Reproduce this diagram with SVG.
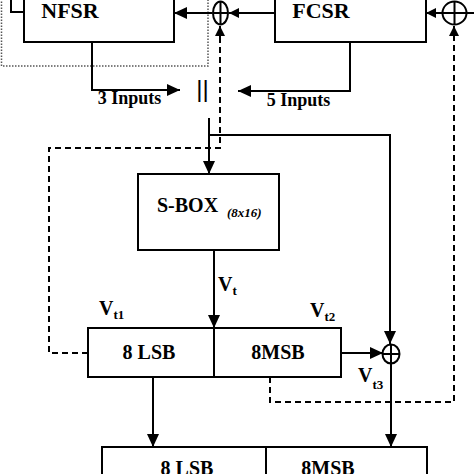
<svg xmlns="http://www.w3.org/2000/svg" width="474" height="474" viewBox="0 0 474 474">
<style>
.box{fill:#fff;stroke:#000;stroke-width:2}
.ln{fill:none;stroke:#000;stroke-width:2}
.dash{fill:none;stroke:#000;stroke-width:2;stroke-dasharray:6 4}
.dot{fill:none;stroke:#555;stroke-width:1.5;stroke-dasharray:1.5 1.5}
.t{font-family:"Liberation Serif","Times New Roman",serif;font-weight:bold;fill:#000}
.xor{fill:#fff;stroke:#000;stroke-width:2}
</style>
<defs>
<marker id="ah" markerUnits="userSpaceOnUse" markerWidth="13" markerHeight="12" refX="13" refY="6" orient="auto"><path d="M0,0 L13,6 L0,12 z" fill="#000"/></marker>
<marker id="as" markerUnits="userSpaceOnUse" markerWidth="10" markerHeight="10" refX="10" refY="5" orient="auto"><path d="M0,0 L10,5 L0,10 z" fill="#000"/></marker>
</defs>
<rect class="dot" x="1.5" y="-10" width="206.5" height="76"/>
<g id="connectors">
<path class="ln" d="M11,0 V12 H24"/>
<path class="ln" d="M275,13 H229" marker-end="url(#as)"/>
<path class="ln" d="M212,13 H174" marker-end="url(#ah)"/>
<path class="ln" d="M442,13 H426" marker-end="url(#as)"/>
<path class="ln" d="M467,13 H474"/>
<path class="ln" d="M92,42 V90 H180" marker-end="url(#ah)"/>
<path class="ln" d="M350,42 V91 H238" marker-end="url(#ah)"/>
<path class="ln" d="M209,118 V174" marker-end="url(#ah)"/>
<path class="ln" d="M209,135 H390 V344" marker-end="url(#ah)"/>
<path class="ln" d="M214,250 V328" marker-end="url(#ah)"/>
<path class="ln" d="M341,353 H383" marker-end="url(#ah)"/>
<path class="ln" d="M391,364 V447" marker-end="url(#ah)"/>
<path class="ln" d="M153,377 V447" marker-end="url(#ah)"/>
<path class="dash" d="M88,353 H49 V148 H220 V36"/>
<path class="ln" d="M220,37 V26" marker-end="url(#as)"/>
<path class="dash" d="M270,377 V402 H454 V36"/>
<path class="ln" d="M454,37 V26" marker-end="url(#as)"/>
</g>
<g id="nfsr"><rect class="box" x="24" y="-10" width="150" height="52"/><text class="t" x="70" y="18" font-size="22" text-anchor="middle">NFSR</text></g>
<g id="fcsr"><rect class="box" x="275" y="-10" width="151" height="52"/><text class="t" x="321" y="18" font-size="22" text-anchor="middle">FCSR</text></g>
<g id="xor1"><ellipse class="xor" cx="220.5" cy="13" rx="7.5" ry="11.5"/><path class="ln" d="M213,13 H228 M220.5,1.5 V24.5"/></g>
<g id="xor2"><ellipse class="xor" cx="454.5" cy="13" rx="12" ry="11.5"/><path class="ln" d="M442.5,13 H466.5 M454.5,1.5 V24.5"/></g>
<g id="xor3"><ellipse class="xor" cx="391" cy="354" rx="8.5" ry="9.5"/><path class="ln" d="M382.5,354 H399.5 M391,344.5 V363.5"/></g>
<g id="labels">
<text class="t" x="129.5" y="104" font-size="18" text-anchor="middle">3 Inputs</text>
<text class="t" x="298.5" y="106" font-size="18" text-anchor="middle">5 Inputs</text>
<text x="202.5" y="97" font-size="24" text-anchor="middle" font-family="Liberation Sans, Arial, sans-serif">||</text>
</g>
<g id="sbox"><rect class="box" x="138" y="174" width="141" height="76"/><text class="t" x="157" y="212" font-size="20">S-BOX</text><text class="t" x="227" y="217" font-size="13" font-style="italic">(8x16)</text></g>
<text class="t" x="218" y="291" font-size="20">V<tspan font-size="13" dy="4">t</tspan></text>
<text class="t" x="99" y="315" font-size="20">V<tspan font-size="13" dy="4">t1</tspan></text>
<text class="t" x="310" y="317" font-size="20">V<tspan font-size="13" dy="4">t2</tspan></text>
<text class="t" x="358" y="382" font-size="20">V<tspan font-size="13" dy="7">t3</tspan></text>
<g id="mid"><rect class="box" x="88" y="328" width="253" height="49"/><path class="ln" d="M214,328 V377"/><text class="t" x="149" y="359" font-size="20" text-anchor="middle">8 LSB</text><text class="t" x="278" y="359" font-size="20" text-anchor="middle">8MSB</text></g>
<g id="bottom"><rect class="box" x="102" y="447" width="325" height="40"/><path class="ln" d="M266,447 V487"/><text class="t" x="187" y="475" font-size="20" text-anchor="middle">8 LSB</text><text class="t" x="328" y="475" font-size="20" text-anchor="middle">8MSB</text></g>
</svg>
